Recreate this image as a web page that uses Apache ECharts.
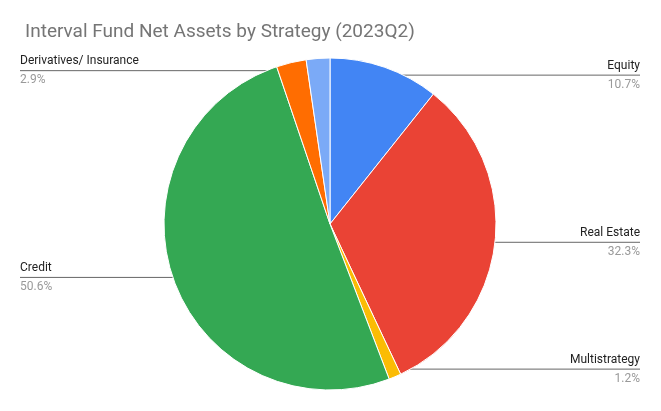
<!DOCTYPE html>
<html><head><meta charset="utf-8">
<script src="https://cdn.jsdelivr.net/npm/echarts@6/dist/echarts.min.js"></script>
<style>html,body{margin:0;padding:0;background:#fff}#c{width:661px;height:411px}</style>
</head><body><div id="c"></div>
<script>
var categories = ["Equity","Real Estate","Multistrategy","Credit","Derivatives/ Insurance","Other"];
var values = [10.7,32.3,1.2,50.6,2.9,2.3];
var colors = ["#4285F4","#EA4335","#FBBC04","#34A853","#FF6D01","#7BAAF7"];
var showLabel = [true,true,true,true,true,false];
var cx = 330, cy = 224, R = 166;
var total = values.reduce(function(a,b){return a+b;},0);
function dotPoint(i){
  var before = 0; for (var k=0;k<i;k++) before += values[k];
  var a = (before + values[i]/2)/total*2*Math.PI;
  return [cx + 0.95*R*Math.sin(a), cy - 0.95*R*Math.cos(a)];
}
var chart = echarts.init(document.getElementById('c'));
chart.setOption({
  title:{text:"Interval Fund Net Assets by Strategy (2023Q2)",left:20,top:18,textStyle:{fontFamily:"Roboto",fontSize:19,fontWeight:"normal",color:"#757575"}},
  series:[{
    type:"pie",center:[cx,cy],radius:[0,R],startAngle:90,clockwise:true,
    data:categories.map(function(n,i){return {name:n,value:values[i],itemStyle:{color:colors[i]},
      label:{show:showLabel[i]},labelLine:{show:showLabel[i]}};}),
    itemStyle:{borderColor:"#fff",borderWidth:1},
    label:{position:"outer",overflow:"none",
      formatter:function(p){return "{n|"+p.name+"}\n{v|"+p.value.toFixed(1)+"%}";},
      rich:{n:{fontFamily:"Roboto",fontSize:12,color:"#222",lineHeight:19},v:{fontFamily:"Roboto",fontSize:12,color:"#999",lineHeight:19}}},
    labelLine:{lineStyle:{color:"#666",width:1}},
    labelLayout:function(p){
      var pt = dotPoint(p.dataIndex);
      var right = pt[0] > cx;
      var ex = right ? 640 : 20;
      return {x: ex, y: pt[1], align: right ? "right" : "left", verticalAlign:"middle",
        labelLinePoints:[[pt[0],pt[1]],[pt[0],pt[1]],[ex,pt[1]]]};
    },
    emphasis:{disabled:true},animation:false
  }]
});
</script></body></html>
